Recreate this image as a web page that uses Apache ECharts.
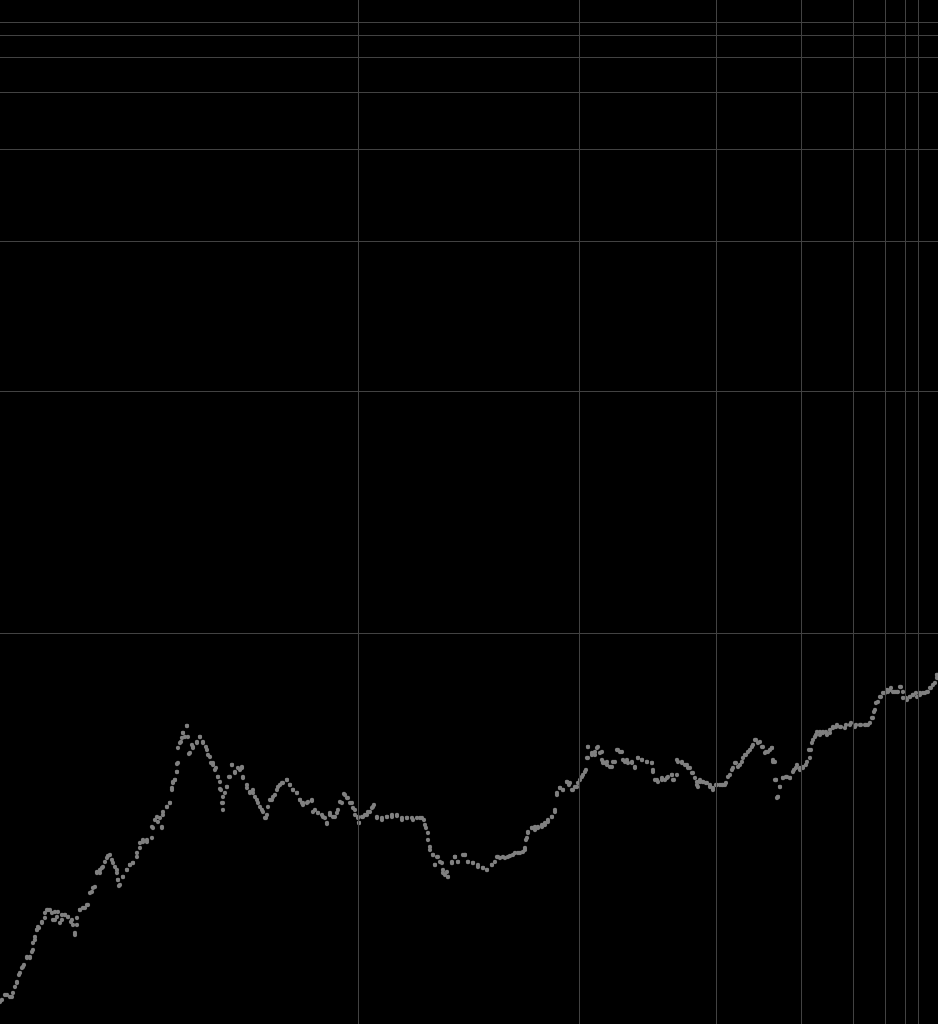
<!DOCTYPE html>
<html>
<head>
<meta charset="utf-8">
<style>
html,body{margin:0;padding:0;background:#000;}
#chart{width:938px;height:1024px;}
</style>
<script src="https://cdn.jsdelivr.net/npm/echarts@6/dist/echarts.min.js"></script>
</head>
<body>
<div id="chart"></div>
<script>
// first pass of readings: time index and level
const xs = [0,5,10,13,17,20,23,27,30,33,35,37,38,42,45,48,52,55,58,62,65,68,72,75,77,80,85,88,92,95,97,100,103,107,110,113,117,118,120,123,127,130,133,137,140,143,147,152,155,158,162,163,167,170,172,173,175,177,178,180,182,183,187,188,190,193,197,200,203,207,210,213,215,218,220,222,223,227,230,232,235,240,242,243,247,250,253,255,258,262,265,267,270,273,277,280,283,287,290,293,297,300,303,308,312,315,318,322,325,327,330,335,338,342,345,348,352,355,358,359,363,367,370,373,377,382,387,392,397,402,407,412,417,422,425,428,430,433,435,438,442,443,447,448,452,455,458,463,465,468,473,478,483,487,492,495,498,503,508,513,518,523,525,527,528,532,535,538,542,545,548,552,555,557,560,563,567,570,573,577,580,583,586,588,588,592,595,597,600,603,607,610,613,617,620,623,627,632,635,638,642,647,652,653,657,662,667,672,673,677,678,682,687,690,693,697,698,700,703,706,710,713,716,720,723,726,730,733,736,740,743,746,750,753,756,760,763,766,770,775,776,778,780,783,786,790,793,796,800,803,806,810,811,813,816,820,823,826,830,833,836,841,846,851,856,861,866,870,873,875,878,881,885,888,891,895,898,901,903,906,910,913,916,920,925,928,931,935,937];
const ys = [22,29,27,31,41,51,57,66,67,74,84,94,97,102,111,114,111,104,112,104,109,107,104,91,99,114,116,119,132,137,151,154,157,166,169,161,154,144,139,147,154,159,161,171,181,184,184,197,204,202,197,209,217,221,234,241,244,252,261,281,286,291,298,287,271,277,282,287,281,274,267,261,254,247,235,221,227,237,247,259,252,254,257,246,236,231,234,227,221,214,206,209,224,227,234,239,241,244,239,234,231,224,221,222,224,214,211,209,206,200,209,207,214,221,229,226,221,214,207,201,207,209,212,217,207,206,207,209,208,206,206,206,206,206,199,191,177,169,159,167,161,151,152,147,161,167,162,169,169,162,161,157,156,154,159,162,167,167,167,169,171,172,176,186,191,196,197,196,199,201,202,207,212,231,236,234,242,241,234,237,244,249,254,266,277,271,269,276,271,262,259,257,262,274,272,264,264,261,256,266,264,262,261,252,244,244,246,249,244,249,262,261,259,256,251,242,237,244,242,241,239,236,239,239,239,241,249,256,261,259,266,269,274,279,284,282,277,272,274,262,244,227,237,246,247,246,252,256,256,256,259,266,274,284,289,292,291,292,291,296,297,297,299,301,299,299,299,301,306,314,322,327,331,332,336,332,332,337,332,326,327,329,331,329,331,332,336,341,349];
// second pass of readings
const xs2 = [2,7,12,15,17,19,22,24,27,30,32,33,35,37,39,42,45,47,50,53,55,57,60,62,65,68,71,73,75,77,80,83,87,90,93,97,100,102,105,108,112,115,117,118,119,123,127,130,133,137,140,143,147,152,153,157,160,162,163,167,170,172,173,175,177,177,178,181,183,187,185,189,192,193,197,200,203,206,208,211,213,216,218,220,221,223,223,225,227,229,232,235,238,242,243,247,250,253,257,260,263,266,268,272,275,278,282,287,290,293,297,300,303,302,307,312,313,318,323,327,330,333,337,340,344,347,350,353,355,358,359,362,365,368,372,374,377,382,387,392,397,402,407,413,420,424,426,428,430,433,435,437,440,443,445,448,452,455,452,455,458,465,468,473,478,483,487,492,497,500,505,510,515,520,525,526,528,532,535,538,542,545,548,552,555,557,560,563,567,569,572,575,578,582,585,587,588,592,595,598,602,605,602,603,607,612,615,618,622,625,628,632,635,638,642,647,652,653,655,658,662,665,668,672,674,677,682,685,688,692,695,697,700,703,707,710,713,717,722,725,728,732,735,738,742,745,748,752,755,758,762,765,768,772,773,775,778,772,773,776,777,780,783,787,790,794,797,800,803,807,809,812,815,817,820,823,827,830,833,837,840,845,850,855,860,865,868,872,874,876,880,883,887,890,893,897,900,903,907,910,913,917,920,923,927,930,933,937,937];
const ys2 = [24,29,27,37,42,49,56,59,67,66,72,81,87,94,96,101,106,114,114,104,112,107,101,109,109,107,102,99,89,106,114,116,119,131,136,152,151,156,162,168,164,157,151,144,138,147,154,159,161,167,176,182,182,186,196,207,206,196,212,217,221,236,242,244,252,260,276,282,291,298,287,270,279,276,281,287,282,277,269,261,259,256,247,242,234,221,214,231,237,247,259,251,256,256,247,239,232,231,224,217,212,206,217,224,229,237,241,244,239,234,231,224,219,221,221,223,212,211,207,201,211,207,211,222,230,226,221,216,209,206,201,207,209,212,216,219,206,204,207,207,209,204,206,204,206,204,196,184,174,169,159,167,162,154,149,147,161,167,162,167,162,169,162,161,159,156,154,159,167,166,166,168,171,171,174,184,192,196,194,197,197,199,204,207,214,229,236,234,242,239,234,237,241,247,252,266,277,269,272,277,264,261,272,261,262,257,262,274,272,262,261,262,257,266,264,262,261,254,244,242,246,244,247,249,244,264,262,259,256,251,246,239,242,242,241,237,234,239,239,239,247,254,261,257,262,269,272,277,284,281,277,271,272,276,264,244,227,276,262,244,226,237,246,247,246,254,259,254,257,262,274,281,287,292,289,292,289,294,297,299,297,296,299,297,299,299,299,306,312,321,327,331,334,334,332,332,337,326,324,327,329,327,331,331,332,336,339,346,349];

const X_MAX = 938;
const Y_MAX = 1024;
const PHI = (1 + Math.sqrt(5)) / 2;
const LEVELS = [1,2,3,4,5,6,7,8];
// golden-ratio reference levels
const gridX = LEVELS.map(k => X_MAX * (1 - Math.pow(PHI, -k)));
const gridY = LEVELS.map(k => Y_MAX * (1 - Math.pow(PHI, -k)));

const points = xs.map((x, i) => [x, ys[i]]).concat(xs2.map((x, i) => [x, ys2[i]]));

const chart = echarts.init(document.getElementById('chart'), null, {renderer: 'canvas'});
const lineData = gridX.map(v => ({xAxis: v})).concat(gridY.map(v => ({yAxis: v})));

chart.setOption({
  backgroundColor: '#000000',
  animation: false,
  grid: {left: 0, right: 0, top: 0, bottom: 0},
  xAxis: {type: 'value', min: 0, max: X_MAX, show: false, splitLine: {show: false}},
  yAxis: {type: 'value', min: 0, max: Y_MAX, show: false, splitLine: {show: false}},
  series: [
    {
      type: 'scatter',
      data: [],
      z: 1,
      silent: true,
      markLine: {
        silent: true,
        symbol: ['none', 'none'],
        label: {show: false},
        lineStyle: {color: '#424242', width: 1, type: 'solid'},
        data: lineData,
        animation: false
      }
    },
    {
      type: 'scatter',
      z: 2,
      symbolSize: 4.3,
      itemStyle: {color: '#808080', opacity: 1},
      data: points
    }
  ]
});
</script>
</body>
</html>
